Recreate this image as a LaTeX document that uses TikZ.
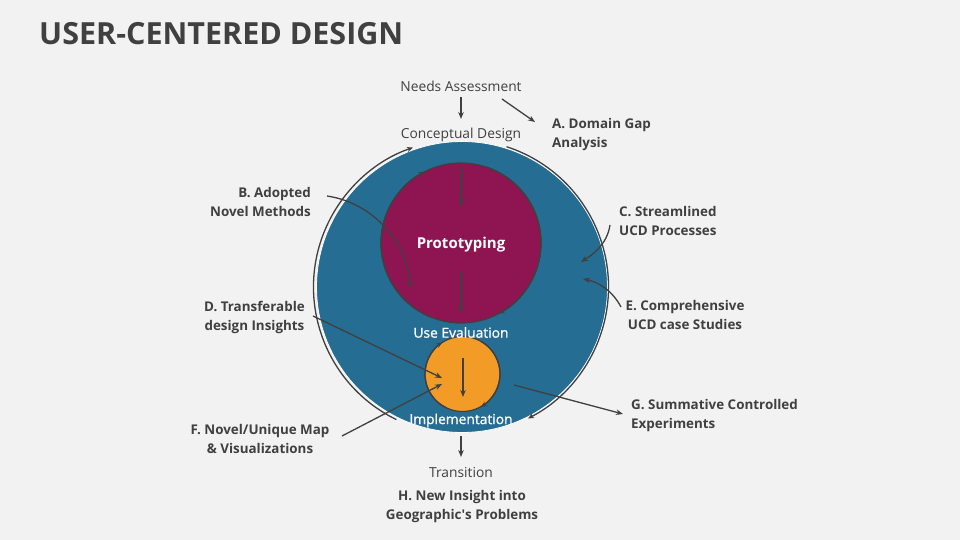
\documentclass[tikz,border=0pt]{standalone}
\usepackage{fontspec}
\setmainfont{Open Sans}
\newfontfamily\semib[FakeBold=1]{Open Sans}
\usetikzlibrary{arrows.meta,calc}
\definecolor{bg}{HTML}{F2F2F2}
\definecolor{txt}{HTML}{404040}
\definecolor{ucdblue}{HTML}{266D93}
\definecolor{ucdmag}{HTML}{8E1452}
\definecolor{ucdorange}{HTML}{F29C27}
\begin{document}
\begin{tikzpicture}[x=1pt,y=1pt,
 lbl/.style={font=\fontsize{13.4}{19}\selectfont\bfseries, text=txt, inner sep=0pt},
 plain/.style={font=\fontsize{13.8}{16}\selectfont, text=txt, inner sep=0pt},
 inlbl/.style={font=\fontsize{13.8}{16}\selectfont\semib, text=white, inner sep=0pt},
 conn/.style={draw=txt, line width=1.3pt, -{Stealth[length=7pt,width=5.5pt]}},
 ring/.style={draw=txt, line width=1.3pt, -{Stealth[length=6pt,width=5pt]}},
 disc/.style={circle, inner sep=0pt},
]
\fill[bg] (0,0) rectangle (960,-540);
\useasboundingbox (0,0) rectangle (960,-540);

\node[anchor=west, font=\fontsize{30.5}{33}\selectfont\bfseries, text=txt, inner sep=0pt] (title) at (39,-34) {USER-CENTERED DESIGN};

% circles
\coordinate (cb) at (462,-287);
\coordinate (ca) at (461,-287);
\coordinate (cm) at (461,-243);
\coordinate (co) at (462.5,-374);
\node[disc, fill=ucdblue, draw=white, line width=0.8pt, minimum size=291pt] (blue) at (cb) {};
\node[disc, fill=ucdmag, draw=txt, line width=1.2pt, minimum size=160pt] (mag) at (cm) {};
\node[disc, fill=ucdorange, draw=txt, line width=1.2pt, minimum size=75pt] (orange) at (co) {};

% ring arrows
\draw[ring] ($(ca)+(244:147.5pt)$) arc[start angle=244, end angle=109, radius=147.5pt];
\draw[ring] ($(ca)+(72:147.5pt)$) arc[start angle=72, end angle=-63, radius=147.5pt];
\draw[ring] ($(cm)+(248:80pt)$) arc[start angle=248, end angle=117, radius=80pt];
\draw[ring] ($(cm)+(72:80pt)$) arc[start angle=72, end angle=-62, radius=80pt];
\draw[ring] ($(co)+(245:37.5pt)$) arc[start angle=245, end angle=123, radius=37.5pt];
\draw[ring] ($(co)+(60:37.5pt)$) arc[start angle=60, end angle=-61, radius=37.5pt];

% stage texts
\node[plain] (needs) at (461,-86.5) {Needs Assessment};
\node[plain] (concept) at (461,-134.5) {Conceptual Design};
\node[inlbl, font=\fontsize{15}{18}\selectfont\bfseries] (proto) at (461,-244.5) {Prototyping};
\node[inlbl] (useeval) at (461,-332.5) {Use Evaluation};
\node[inlbl] (impl) at (461,-420.5) {Implementation};
\node[plain] (trans) at (461,-472.5) {Transition};

% vertical flow
\coordinate (n1) at (461,-97);  \coordinate (n2) at (461,-119);
\coordinate (m1) at (461,-168); \coordinate (m2) at (461,-207);
\coordinate (p1) at (461,-271); \coordinate (p2) at (461,-313);
\coordinate (o1) at (463,-358); \coordinate (o2) at (463,-397);
\coordinate (i1) at (461,-436); \coordinate (i2) at (461,-457);
\draw[conn] (n1) -- (n2);
\draw[conn] (m1) -- (m2);
\draw[conn] (p1) -- (p2);
\draw[conn] (o1) -- (o2);
\draw[conn] (i1) -- (i2);

% labels
\node[lbl, anchor=west, align=left] (A) at (552,-135) {A. Domain Gap\\Analysis};
\node[lbl, anchor=east, align=right] (B) at (311,-201.5) {B. Adopted\\Novel Methods};
\node[lbl, anchor=west, align=left] (C) at (619,-220.5) {C. Streamlined\\UCD Processes};
\node[lbl, anchor=east, align=center] (D) at (305,-317.5) {D. Transferable\\design Insights};
\node[lbl, align=center] (E) at (685,-314.5) {E. Comprehensive\\UCD case Studies};
\node[lbl, align=center] (F) at (260,-438.5) {F. Novel/Unique Map\\\& Visualizations};
\node[lbl, anchor=west, align=left] (G) at (631,-415.5) {G. Summative Controlled\\Experiments};
\node[lbl, align=center] (H) at (462,-506.5) {H. New Insight into\\Geographic\textquotesingle s Problems};

% label connectors
\coordinate (a1) at (502,-99);  \coordinate (a2) at (535,-122);
\draw[conn] (a1) -- (a2);
\coordinate (b1) at (327,-196); \coordinate (b2) at (410,-288);
\draw[conn] (b1) .. controls (375,-203) and (408,-245) .. (b2);
\coordinate (c1) at (610,-225); \coordinate (c2) at (581,-262);
\draw[conn] (c1) .. controls (607,-245) and (592,-255) .. (c2);
\coordinate (e1) at (621,-307); \coordinate (e2) at (583,-279);
\draw[conn] (e1) .. controls (612,-290) and (598,-282) .. (e2);
\coordinate (d1) at (313,-316); \coordinate (d2) at (442,-378);
\draw[conn] (d1) -- (d2);
\coordinate (f1) at (342,-436); \coordinate (f2) at (442,-384);
\draw[conn] (f1) -- (f2);
\coordinate (g1) at (514,-385); \coordinate (g2) at (623,-414);
\draw[conn] (g1) -- (g2);
\end{tikzpicture}
\end{document}
